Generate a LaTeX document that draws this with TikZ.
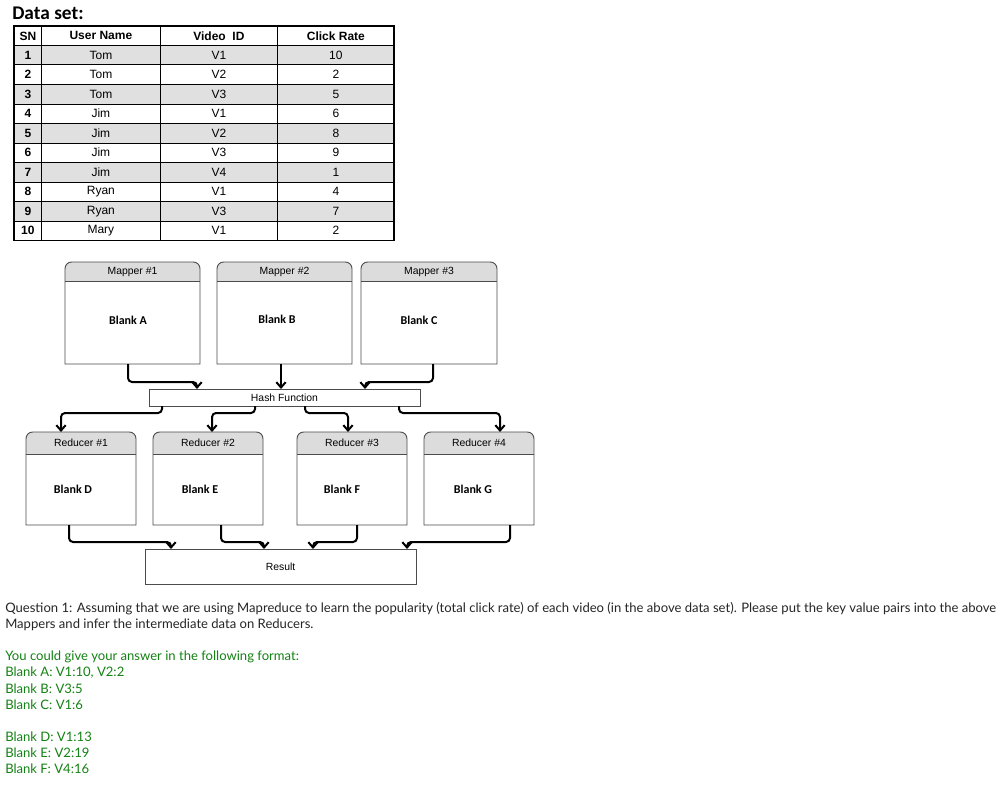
\documentclass[tikz,border=0pt]{standalone}
\usepackage{fontspec}
\setmainfont{Liberation Sans}
\newfontfamily\lato{Lato}
\newfontfamily\carl{Carlito}
\usetikzlibrary{arrows.meta}
\definecolor{hdrgray}{RGB}{220,220,220}
\definecolor{rowgray}{RGB}{224,224,224}
\definecolor{ansgreen}{RGB}{20,130,20}
\begin{document}
\begin{tikzpicture}[x=0.75pt,y=-0.75pt,
  cell/.style={draw=black,line width=0.6pt,inner sep=0pt,anchor=north west,font=\fontsize{9}{10}\selectfont},
  hdrcell/.style={cell,font=\fontsize{9}{10}\selectfont\bfseries},
  boxlbl/.style={font=\fontsize{7.8}{9}\selectfont},
  blank/.style={font=\carl\bfseries\fontsize{9}{10}\selectfont},
  conn/.style={line width=1.5pt,rounded corners=3pt,-{Straight Barb[length=4pt,width=7pt]}},
  txt/.style={anchor=west,inner sep=0pt,font=\lato\fontsize{9.8}{11}\selectfont}]
\useasboundingbox[fill=white] (0,0) rectangle (1006,792);
\node[anchor=west,inner sep=0pt,font=\carl\bfseries\fontsize{14.5}{16}\selectfont] (title) at (12,13) {Data set:};
% table
\def\colx{{14,41,160,277,394}}
\foreach \t [count=\c from 0] in {SN,User Name,Video\ \ ID,Click Rate}{
  \pgfmathsetmacro\xa{\colx[\c]}\pgfmathsetmacro\xb{\colx[\c+1]}
  \node[hdrcell,minimum width={(\xb-\xa)*0.75pt},minimum height={19*0.75pt}] (h\c) at (\xa,26) {\t};
}
\foreach \sn/\u/\v/\r [count=\i from 1] in {1/Tom/V1/10,2/Tom/V2/2,3/Tom/V3/5,4/Jim/V1/6,5/Jim/V2/8,6/Jim/V3/9,7/Jim/V4/1,8/Ryan/V1/4,9/Ryan/V3/7,10/Mary/V1/2}{
  \pgfmathsetmacro\yy{45+(\i-1)*19.5}
  \pgfmathtruncatemacro\odd{mod(\i,2)}
  \ifnum\odd=1 \def\fc{rowgray}\else\def\fc{white}\fi
  \node[cell,fill=\fc,font=\fontsize{9}{10}\selectfont\bfseries,minimum width={27*0.75pt},minimum height={19.5*0.75pt}] (s\i) at (14,\yy) {\sn};
  \node[cell,fill=\fc,minimum width={119*0.75pt},minimum height={19.5*0.75pt}] (u\i) at (41,\yy) {\u};
  \node[cell,fill=\fc,minimum width={117*0.75pt},minimum height={19.5*0.75pt}] (v\i) at (160,\yy) {\v};
  \node[cell,fill=\fc,minimum width={117*0.75pt},minimum height={19.5*0.75pt}] (r\i) at (277,\yy) {\r};
}
\draw[line width=1pt] (14,26) rectangle (394,240.5);
\newcommand\procbox[7]{% name, x1,y1,x2,y2,hdrbottom,title
  \fill[hdrgray,rounded corners=5pt] (#2,#6) -- (#2,#3) -- (#4,#3) [sharp corners] -- (#4,#6) -- cycle;
  \draw[gray!60!black,line width=0.7pt] (#2,#5) [rounded corners=5pt] -- (#2,#3) -- (#4,#3) [sharp corners] -- (#4,#5) -- cycle;
  \draw[gray!60!black,line width=0.7pt] (#2,#6) -- (#4,#6);
  \node[boxlbl] (#1t) at ({(#2+#4)/2},{(#3+#6)/2}) {#7};
  \coordinate (#1) at ({(#2+#4)/2},{(#3+#5)/2});
}
\procbox{m1}{65}{262}{200}{364}{281}{Mapper \#1}
\procbox{m2}{217}{262}{352}{364}{281}{Mapper \#2}
\procbox{m3}{361}{262}{497}{364}{281}{Mapper \#3}
\node[blank] (ba) at (128,320) {Blank A};
\node[blank] (bb) at (277,319) {Blank B};
\node[blank] (bc) at (419,320) {Blank C};
\procbox{r1}{26}{432}{136}{525}{454}{Reducer \#1}
\procbox{r2}{153}{432}{263}{525}{454}{Reducer \#2}
\procbox{r3}{297}{432}{407}{525}{454}{Reducer \#3}
\procbox{r4}{424}{432}{534}{525}{454}{Reducer \#4}
\node[blank] (bd) at (73,489) {Blank D};
\node[blank] (be) at (200,489) {Blank E};
\node[blank] (bf) at (342,489) {Blank F};
\node[blank] (bg) at (473,489) {Blank G};
\node[draw=gray!60!black,line width=0.7pt,minimum width={271*0.75pt},minimum height={17*0.75pt},inner sep=0pt,boxlbl] (hash) at (284.5,397.5) {Hash Function};
\node[draw=gray!60!black,line width=0.7pt,minimum width={271*0.75pt},minimum height={35*0.75pt},inner sep=0pt,boxlbl] (res) at (280.5,566.5) {Result};
% connectors
\draw[conn] (128,364) -- (128,382) -- (197,382) -- (197,389);
\draw[conn] (281,364) -- (281,389);
\draw[conn] (433,364) -- (433,382) -- (365,382) -- (365,389);
\draw[conn] (162,406) -- (162,413) -- (61,413) -- (61,432);
\draw[conn] (255,406) -- (255,413) -- (212,413) -- (212,432);
\draw[conn] (305,406) -- (305,413) -- (348,413) -- (348,432);
\draw[conn] (399,406) -- (399,413) -- (500,413) -- (500,432);
\draw[conn] (69,525) -- (69,542) -- (171,542) -- (171,549);
\draw[conn] (221,525) -- (221,542) -- (264,542) -- (264,549);
\draw[conn] (357,525) -- (357,542) -- (313,542) -- (313,549);
\draw[conn] (510,525) -- (510,542) -- (407,542) -- (407,549);
% text
\node[txt,text=black!85] (q1) at (5,609) {Question 1: Assuming that we are using Mapreduce to learn the popularity (total click rate) of each video (in the above data set). Please put the key value pairs into the above};
\node[txt,text=black!85] (q2) at (5,625) {Mappers and infer the intermediate data on Reducers.};
\foreach \s/\y [count=\k] in {You could give your answer in the following format:/657,{Blank A: V1:10, V2:2}/673,Blank B: V3:5/689,Blank C: V1:6/705,Blank D: V1:13/737,Blank E: V2:19/753,Blank F: V4:16/769}
  \node[txt,text=ansgreen] (g\k) at (5,\y) {\s};
\end{tikzpicture}
\end{document}
